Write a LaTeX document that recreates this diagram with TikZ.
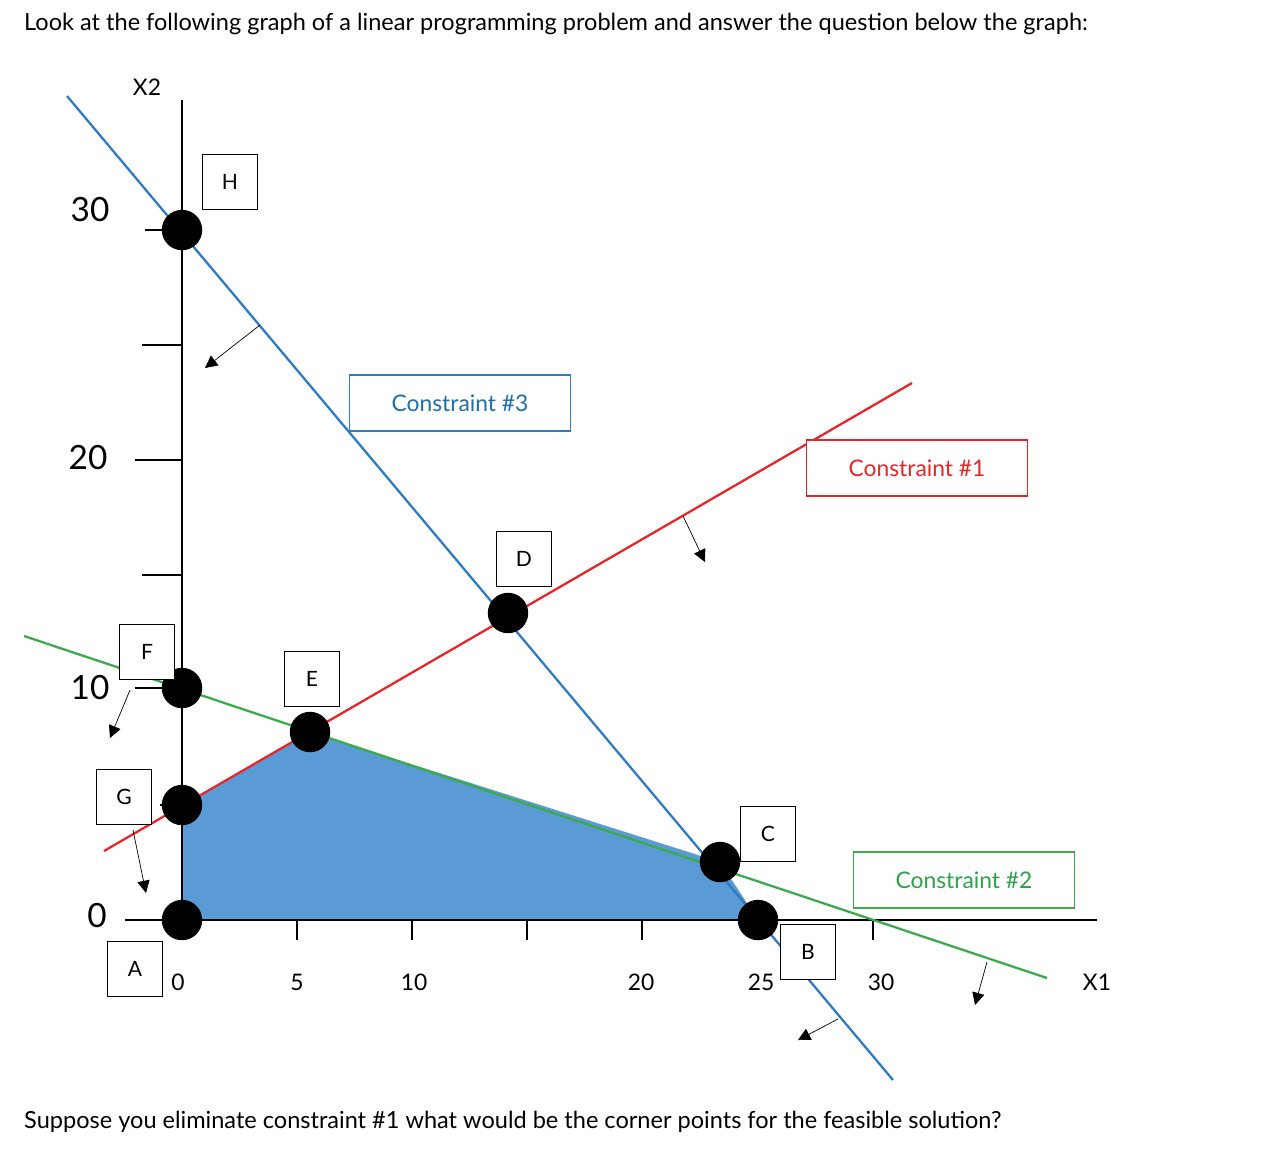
\documentclass[tikz,border=0pt]{standalone}
\usepackage{fontspec}
\setmainfont{Lato}
\usetikzlibrary{arrows.meta}
\definecolor{fillb}{HTML}{5B9BD5}
\definecolor{lblue}{HTML}{2E7BC4}
\definecolor{lred}{HTML}{E8262A}
\definecolor{lgreen}{HTML}{3BAA4A}
\definecolor{tblue}{HTML}{1F6FA8}
\definecolor{tgreen}{HTML}{2EA24A}
\tikzset{
 dot/.style={circle,fill=black,minimum size=23pt,inner sep=0pt},
 lbox/.style={draw=black,thick,fill=white,minimum width=31pt,minimum height=31pt,inner sep=0pt,font=\fontsize{12}{14}\selectfont},
 cbox/.style={draw,thick,fill=white,minimum width=126pt,minimum height=32pt,inner sep=0pt,font=\fontsize{13}{15}\selectfont},
 tick/.style={line width=1.5pt},
 axl/.style={font=\fontsize{19}{22}\selectfont},
 xl/.style={font=\fontsize{13}{15}\selectfont},
 arr/.style={thin,-{Triangle[length=7pt,width=7pt]}},
}
\begin{document}
\begin{tikzpicture}[x=0.02cm,y=-0.02cm]
\useasboundingbox (0,0) rectangle (1270,1154);
\node[anchor=west,font=\fontsize{13.4}{16}\selectfont] (title) at (18,24) {Look at the following graph of a linear programming problem and answer the question below the graph:};
\node[anchor=west,font=\fontsize{13.4}{16}\selectfont] (q) at (18,1122) {Suppose you eliminate constraint \#1 what would be the corner points for the feasible solution?};
\fill[fillb] (182,920) -- (182,805) -- (310,732) -- (720,862) -- (758,920) -- cycle;
% axes
\draw[line width=1.5pt] (182,100) -- (182,940);
\draw[line width=1.5pt] (182,920) -- (1097,920);
\foreach \y/\a in {230/145,345/142,460/135,575/142,688/135,805/160,920/125} \draw[tick] (\a,\y) -- (182,\y);
\foreach \x in {297,412,527,642,757,873} \draw[tick] (\x,920) -- (\x,940);
% lines
\draw[lblue,line width=1.3pt] (67,96) -- (893,1080);
\draw[lred,line width=1.3pt] (104,851) -- (912,383);
\draw[lgreen,line width=1.3pt] (24,636) -- (1047,978);
% labels
\node[axl] (l30) at (90,210) {30};
\node[axl] (l20) at (88,458) {20};
\node[axl] (l10) at (90,688) {10};
\node[axl] (l0) at (97,916) {0};
\node[xl] (x2) at (147,87) {X2};
\foreach \x/\t in {178/0,297/5,414/10,641/20,761/25,881/30} \node[xl] at (\x,982) {\t};
\node[xl] (x1) at (1097,982) {X1};
% dots
\foreach \p in {(182,230),(182,688),(182,805),(182,920),(310,732),(508,613),(720,862),(758,920)} \node[dot] at \p {};
% boxes
\node[lbox] (H) at (230,182) {H};
\node[lbox] (F) at (147,652) {F};
\node[lbox] (E) at (312,679) {E};
\node[lbox] (G) at (124,797) {G};
\node[lbox] (A) at (135,969) {A};
\node[lbox] (D) at (524,559) {D};
\node[lbox] (C) at (768,834) {C};
\node[lbox] (B) at (808,952) {B};
\node[cbox,draw=lblue,text=tblue] (c3) at (460,403) {Constraint \#3};
\node[cbox,draw=lred,text=lred] (c1) at (917,468) {Constraint \#1};
\node[cbox,draw=lgreen,text=tgreen] (c2) at (964,880) {Constraint \#2};
% arrows
\coordinate (a1) at (260,325); \coordinate (b1) at (205,368);
\coordinate (a2) at (683,516); \coordinate (b2) at (705,562);
\coordinate (a3) at (130,690); \coordinate (b3) at (110,738);
\coordinate (a4) at (133,830); \coordinate (b4) at (146,893);
\coordinate (a5) at (838,1019); \coordinate (b5) at (798,1040);
\coordinate (a6) at (987,962); \coordinate (b6) at (975,1005);
\foreach \i in {1,...,6} \draw[arr] (a\i) -- (b\i);
\end{tikzpicture}
\end{document}
